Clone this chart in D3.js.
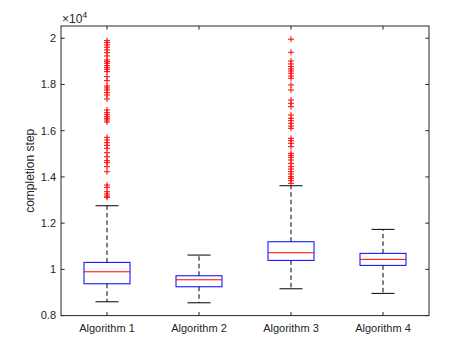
<!DOCTYPE html>
<html><head><meta charset="utf-8">
<script src="https://cdn.jsdelivr.net/npm/d3@7"></script>
<style>body{margin:0;background:#fff}svg{display:block}text{font-family:"Liberation Sans",Arial,sans-serif}</style>
</head><body><svg id="c" width="474" height="355"></svg>
<script>
const categories = ["Algorithm 1","Algorithm 2","Algorithm 3","Algorithm 4"];
const q1 =       [9377, 9247, 10389, 10173];
const medians =  [9896, 9550, 10719, 10433];
const q3 =       [10303, 9723, 11195, 10693];
const whiskLo =  [8598, 8554, 9160, 8961];
const whiskHi =  [12753, 10619, 13619, 11731];
const outliers1 = [19896,19810,19710,19610,19494,19377,19234,19061,18987,18918,18814,18727,18658,18554,18338,18165,17935,17849,17762,17645,17545,17372,16896,16779,16693,16606,16537,16463,16377,15714,15597,15481,15368,15238,15048,14874,14701,14615,14442,14225,13649,13550,13359,13260,13173,13117];
const outliers2 = [];
const outliers3 = [19960,19394,19017,18887,18771,18671,18584,18485,18368,18268,17978,17762,17329,17186,17039,16680,16537,16433,16320,16203,16104,15671,15567,15455,15307,15022,14935,14848,14732,14589,14442,14342,14225,14126,14009,13939,13836,13723];
const outliers4 = [];
const outliers = [outliers1, outliers2, outliers3, outliers4];
const yTicks = [8000,10000,12000,14000,16000,18000,20000];
const yTickLabels = ["0.8","1","1.2","1.4","1.6","1.8","2"];
const yLabel = "completion step";

const svg = d3.select("#c");
const L=61, R=429, T=26, B=315.6;
const ax="#262626";
const x = d3.scaleLinear().domain([0.5,4.5]).range([L,R]);
const y = d3.scaleLinear().domain([8000,20530]).range([B,T]);
const tl=3.7;

const g = svg.append("g");
categories.forEach((c,i)=>{
  const cx = x(i+1), hw = x(1.25)-x(1), cw = x(1.125)-x(1);
  const dash="4.5,3";
  g.append("line").attr("x1",cx).attr("x2",cx).attr("y1",y(q3[i])).attr("y2",y(whiskHi[i])).attr("stroke","#000").attr("stroke-width",1).attr("stroke-dasharray",dash);
  g.append("line").attr("x1",cx).attr("x2",cx).attr("y1",y(q1[i])).attr("y2",y(whiskLo[i])).attr("stroke","#000").attr("stroke-width",1).attr("stroke-dasharray",dash);
  [whiskHi[i],whiskLo[i]].forEach(v=>g.append("line").attr("x1",cx-cw).attr("x2",cx+cw).attr("y1",y(v)).attr("y2",y(v)).attr("stroke","#000").attr("stroke-width",1));
  g.append("rect").attr("x",cx-hw).attr("width",2*hw).attr("y",y(q3[i])).attr("height",y(q1[i])-y(q3[i])).attr("fill","none").attr("stroke","#0000ff").attr("stroke-width",1);
  g.append("line").attr("x1",cx-hw).attr("x2",cx+hw).attr("y1",y(medians[i])).attr("y2",y(medians[i])).attr("stroke","#ff0000").attr("stroke-width",1);
  outliers[i].forEach(v=>{
    const py=y(v), s=3;
    g.append("path").attr("d",`M${cx-s},${py}H${cx+s}M${cx},${py-s}V${py+s}`).attr("stroke","#ff0000").attr("stroke-width",1).attr("fill","none");
  });
});

const ag = svg.append("g").attr("stroke",ax).attr("stroke-width",1).attr("fill","none");
ag.append("rect").attr("x",L).attr("y",T).attr("width",R-L).attr("height",B-T);
yTicks.forEach(v=>{
  ag.append("line").attr("x1",L).attr("x2",L+tl).attr("y1",y(v)).attr("y2",y(v));
  ag.append("line").attr("x1",R).attr("x2",R-tl).attr("y1",y(v)).attr("y2",y(v));
});
categories.forEach((c,i)=>{
  ag.append("line").attr("x1",x(i+1)).attr("x2",x(i+1)).attr("y1",B).attr("y2",B-tl);
  ag.append("line").attr("x1",x(i+1)).attr("x2",x(i+1)).attr("y1",T).attr("y2",T+tl);
});
yTicks.forEach((v,i)=>{
  svg.append("text").attr("x",L-5).attr("y",y(v)).attr("dy","0.35em").attr("text-anchor","end").attr("font-size",11).attr("fill",ax).text(yTickLabels[i]);
});
categories.forEach((c,i)=>{
  svg.append("text").attr("x",x(i+1)).attr("y",B+16).attr("text-anchor","middle").attr("font-size",11).attr("fill",ax).text(c);
});
const ex = svg.append("text").attr("x",L+1).attr("y",T-3).attr("font-size",12).attr("fill",ax);
ex.append("tspan").text("×10");
ex.append("tspan").attr("dy",-5).attr("font-size",9).text("4");
svg.append("text").attr("transform",`translate(34,${(T+B)/2}) rotate(-90)`).attr("text-anchor","middle").attr("font-size",12).attr("fill",ax).text(yLabel);
</script></body></html>
